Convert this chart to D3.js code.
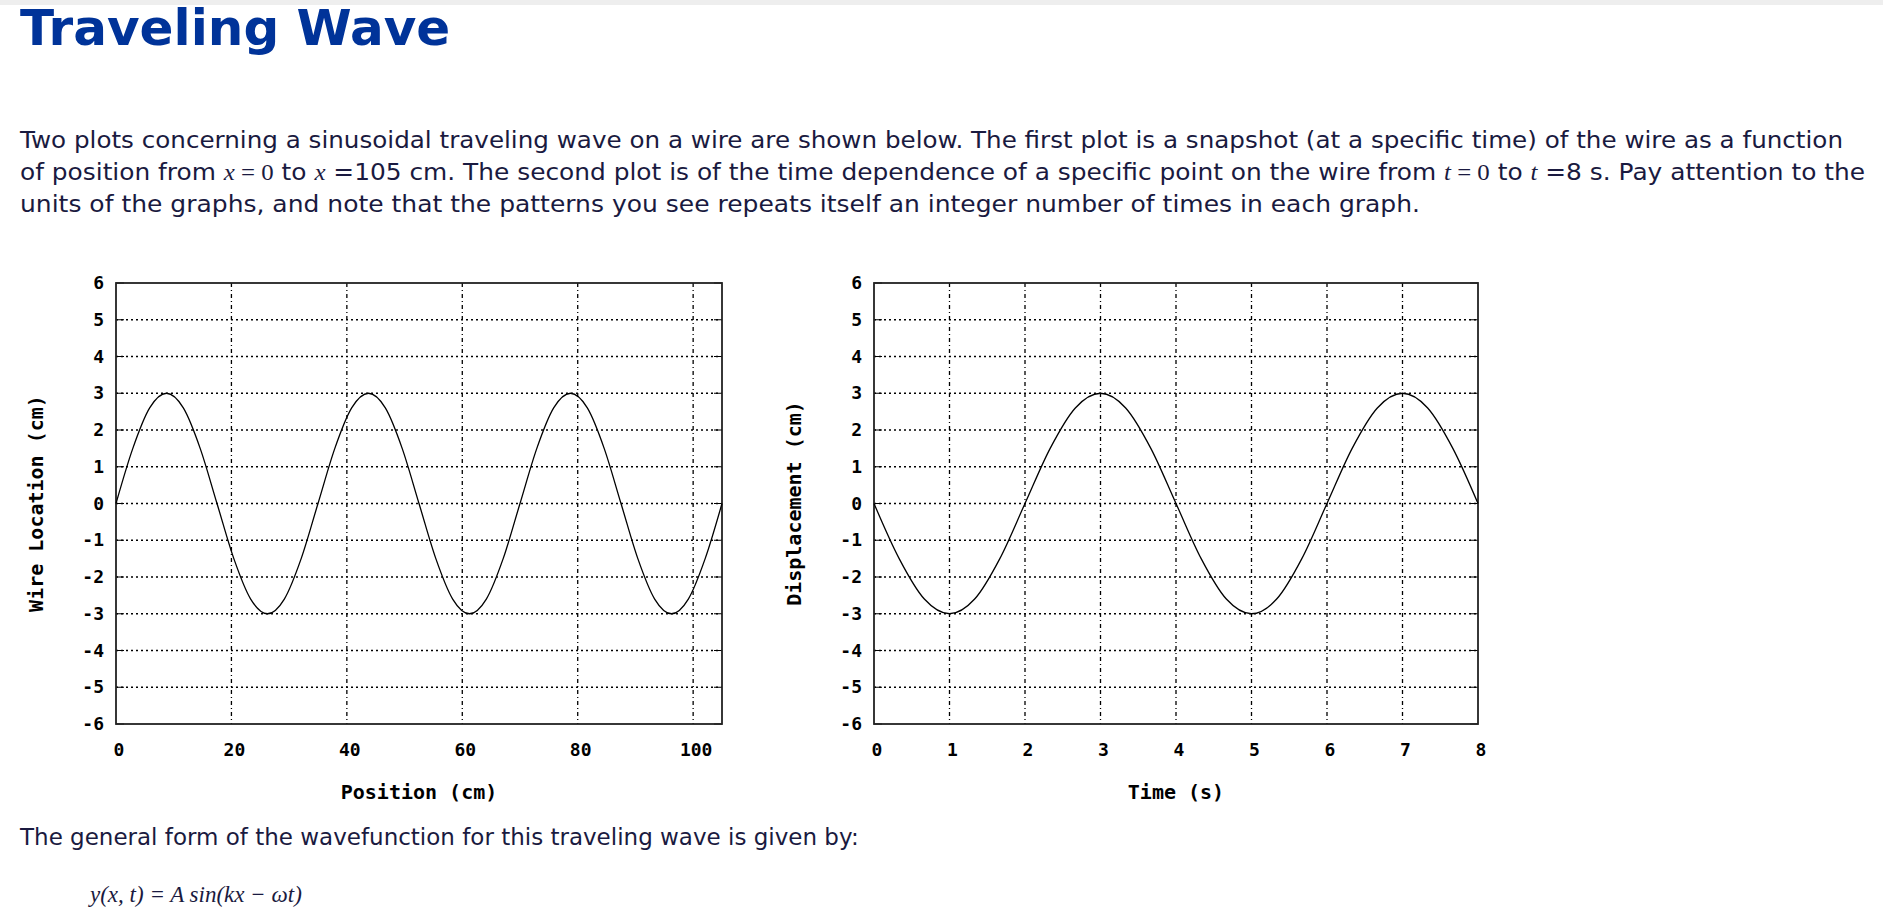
<!DOCTYPE html>
<html><head><meta charset="utf-8">
<script src="https://cdn.jsdelivr.net/npm/d3@7"></script>
<style>
body{margin:0;background:#fff;font-family:"DejaVu Sans",Verdana,sans-serif;}
</style></head><body>
<svg id="c" width="1883" height="920" font-family="DejaVu Sans, Verdana, sans-serif"></svg>
<script>
const posTicks=[0,20,40,60,80,100];
const timeTicks=[0,1,2,3,4,5,6,7,8];
const yTicks=[-6,-5,-4,-3,-2,-1,0,1,2,3,4,5,6];
// Plot 1: wire location (cm) vs position (cm), samples every 35/12 cm
const posX=d3.range(37).map(i=>i*35/12);
const posY=[0,1.5,2.6,3,2.6,1.5,0,-1.5,-2.6,-3,-2.6,-1.5,
            0,1.5,2.6,3,2.6,1.5,0,-1.5,-2.6,-3,-2.6,-1.5,
            0,1.5,2.6,3,2.6,1.5,0,-1.5,-2.6,-3,-2.6,-1.5,0];
// Plot 2: displacement (cm) vs time (s), samples every 1/3 s
const timeX=d3.range(25).map(i=>i/3);
const timeY=[0,-1.5,-2.6,-3,-2.6,-1.5,0,1.5,2.6,3,2.6,1.5,
             0,-1.5,-2.6,-3,-2.6,-1.5,0,1.5,2.6,3,2.6,1.5,0];

const serif="'Liberation Serif', serif";
const mono="'DejaVu Sans Mono', monospace";
const svg=d3.select("#c");
svg.append("rect").attr("x",0).attr("y",0).attr("width",1883).attr("height",5).attr("fill","#eee");
svg.append("text").attr("x",20).attr("y",45).attr("font-size",50).attr("font-weight","bold").attr("fill","#003399").text("Traveling Wave");
const para=svg.append("g").attr("font-size",23).attr("fill","#1a1a40");
para.append("text").attr("x",20).attr("y",148).attr("textLength",1823).attr("lengthAdjust","spacingAndGlyphs").text("Two plots concerning a sinusoidal traveling wave on a wire are shown below. The first plot is a snapshot (at a specific time) of the wire as a function");
const l2=para.append("text").attr("x",20).attr("y",180).attr("textLength",1845).attr("lengthAdjust","spacingAndGlyphs");
l2.append("tspan").text("of position from ");
l2.append("tspan").style("font-family",serif).style("font-style","italic").text("x");
l2.append("tspan").style("font-family",serif).text(" = 0");
l2.append("tspan").text(" to ");
l2.append("tspan").style("font-family",serif).style("font-style","italic").text("x");
l2.append("tspan").text(" =105 cm. The second plot is of the time dependence of a specific point on the wire from ");
l2.append("tspan").style("font-family",serif).style("font-style","italic").text("t");
l2.append("tspan").style("font-family",serif).text(" = 0");
l2.append("tspan").text(" to ");
l2.append("tspan").style("font-family",serif).style("font-style","italic").text("t");
l2.append("tspan").text(" =8 s. Pay attention to the");
para.append("text").attr("x",20).attr("y",212).attr("textLength",1400).attr("lengthAdjust","spacingAndGlyphs").text("units of the graphs, and note that the patterns you see repeats itself an integer number of times in each graph.");
svg.append("text").attr("x",20).attr("y",845).attr("font-size",23).attr("fill","#1a1a40").text("The general form of the wavefunction for this traveling wave is given by:");
svg.append("text").attr("x",90).attr("y",902).attr("font-size",23).style("font-family",serif).style("font-style","italic").attr("fill","#1a1a40").text("y(x, t) = A sin(kx − ωt)");

function plot(x0,x1,dom,xt,xs,ys,xlabel,ylabel){
  const y0=283,y1=724;
  const x=d3.scaleLinear().domain(dom).range([x0,x1]);
  const y=d3.scaleLinear().domain([-6,6]).range([y1,y0]);
  const g=svg.append("g");
  yTicks.forEach(v=>{
    if(v>-6&&v<6) g.append("line").attr("x1",x0).attr("x2",x1).attr("y1",y(v)).attr("y2",y(v)).attr("stroke","#000").attr("stroke-width",1.3).attr("stroke-dasharray","2,3");
    g.append("line").attr("x1",x0).attr("x2",x0+8).attr("y1",y(v)).attr("y2",y(v)).attr("stroke","#000");
    g.append("line").attr("x1",x1-8).attr("x2",x1).attr("y1",y(v)).attr("y2",y(v)).attr("stroke","#000");
    g.append("text").attr("x",x0-12).attr("y",y(v)+6).attr("text-anchor","end").style("font-family",mono).attr("font-weight","bold").attr("font-size",18).text(v);
  });
  xt.forEach(v=>{
    if(x(v)>x0+1&&x(v)<x1-1) g.append("line").attr("x1",x(v)).attr("x2",x(v)).attr("y1",y0).attr("y2",y1).attr("stroke","#000").attr("stroke-width",1.3).attr("stroke-dasharray","4,3,1,3");
    g.append("text").attr("x",x(v)+3).attr("y",y1+32).attr("text-anchor","middle").style("font-family",mono).attr("font-weight","bold").attr("font-size",18).text(v);
  });
  g.append("rect").attr("x",x0).attr("y",y0).attr("width",x1-x0).attr("height",y1-y0).attr("fill","none").attr("stroke","#222").attr("stroke-width",1.8);
  const line=d3.line().x((d,i)=>x(xs[i])).y(d=>y(d)).curve(d3.curveMonotoneX);
  g.append("path").datum(ys).attr("d",line).attr("fill","none").attr("stroke","#000").attr("stroke-width",1.3);
  g.append("text").attr("x",(x0+x1)/2).attr("y",799).attr("text-anchor","middle").style("font-family",mono).attr("font-weight","bold").attr("font-size",20).text(xlabel);
  g.append("text").attr("transform",`translate(${x0-73},${(y0+y1)/2}) rotate(-90)`).attr("text-anchor","middle").style("font-family",mono).attr("font-weight","bold").attr("font-size",20).text(ylabel);
}
plot(116,722,[0,105],posTicks,posX,posY,"Position (cm)","Wire Location (cm)");
plot(874,1478,[0,8],timeTicks,timeX,timeY,"Time (s)","Displacement (cm)");
</script></body></html>
